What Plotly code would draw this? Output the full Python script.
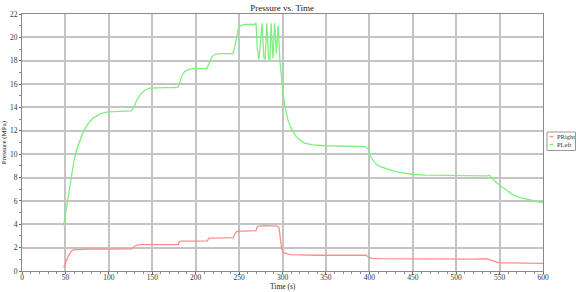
import plotly.graph_objects as go

# PLeft (green) samples
t_left = [48, 51.5, 54, 57, 60, 63, 67, 71, 76, 82, 90, 97, 105, 115, 126, 129, 132, 136, 141, 147, 155, 165, 175, 180,
          182, 184, 187, 190, 195, 205, 213, 215, 217, 219, 222, 228, 236, 243, 245, 247, 249, 251, 253, 258, 264, 268.5,
          269.5, 271, 273, 275, 276.5, 278.5, 280, 281.9, 284, 285.5, 286.9, 289, 291, 293, 295, 297, 299, 301, 303, 306,
          309, 313, 317, 320, 325, 335, 349, 365, 380, 395, 398.6, 401, 404, 407, 412, 420, 428, 436, 445, 451, 465, 480,
          489, 505, 520, 535, 538, 541, 546, 551, 558, 566, 575, 585, 593, 600]
v_left = [3.9, 5.5, 6.9, 8.4, 9.5, 10.4, 11.2, 12.0, 12.6, 13.1, 13.45, 13.6, 13.65, 13.7, 13.7, 14.0, 14.6, 15.1, 15.45, 15.65, 15.7, 15.7, 15.7, 15.75,
          16.2, 16.7, 17.05, 17.2, 17.3, 17.3, 17.35, 17.7, 18.1, 18.35, 18.55, 18.6, 18.6, 18.6, 19.2, 20.0, 20.7, 20.95, 21.05, 21.1, 21.1, 21.1,
          21.25, 19.0, 18.1, 20.0, 21.2, 18.3, 18.1, 21.2, 18.2, 18.0, 21.2, 18.2, 21.2, 18.6, 21.0, 18.0, 16.2, 15.0, 14.0, 13.0,
          12.4, 11.8, 11.4, 11.2, 10.95, 10.8, 10.72, 10.7, 10.7, 10.65, 10.45, 9.9, 9.5, 9.2, 8.95, 8.72, 8.55, 8.42, 8.32, 8.26, 8.2, 8.18,
          8.15, 8.12, 8.12, 8.14, 8.2, 7.95, 7.6, 7.3, 6.9, 6.5, 6.25, 6.05, 5.95, 5.85]

# PRight (red) samples
t_right = [48, 50, 51.5, 53.5, 55.3, 57, 59, 65, 75, 90, 105, 115, 126, 128, 130, 133, 136, 150, 165, 180, 181, 183, 195, 205,
           213.5, 214.5, 216, 225, 235, 243.4, 245, 247.3, 255, 262, 269.6, 270.5, 272, 280, 290, 294, 296, 297.5, 299,
           301, 303, 308.8, 312.5, 320, 340, 360, 380, 396, 399, 403, 410, 430, 460, 490, 520, 535, 540, 546, 550.7, 560,
           575, 590, 600]
v_right = [0.3, 0.6, 0.95, 1.3, 1.56, 1.72, 1.8, 1.85, 1.88, 1.87, 1.9, 1.87, 1.9, 2.0, 2.14, 2.22, 2.25, 2.25, 2.25, 2.27, 2.5, 2.55, 2.55, 2.55,
           2.57, 2.72, 2.82, 2.82, 2.82, 2.85, 3.15, 3.4, 3.42, 3.42, 3.45, 3.72, 3.85, 3.88, 3.86, 3.85, 3.7, 2.8, 1.9,
           1.6, 1.52, 1.4, 1.38, 1.38, 1.35, 1.36, 1.33, 1.35, 1.2, 1.08, 1.06, 1.05, 1.02, 1.05, 1.02, 1.05, 0.9, 0.78, 0.7, 0.68,
           0.66, 0.66, 0.65]

x_ticks = [0, 50, 100, 150, 200, 250, 300, 350, 400, 450, 500, 550, 600]
y_ticks = [0, 2, 4, 6, 8, 10, 12, 14, 16, 18, 20, 22]
series_names = ["PRight", "PLeft"]
series_colors = ["#ff8c8c", "#7ef07e"]

FONT = "Liberation Serif"

fig = go.Figure()
fig.add_trace(go.Scatter(x=t_right, y=v_right, mode="lines", name=series_names[0],
                         line=dict(color=series_colors[0], width=1.3)))
fig.add_trace(go.Scatter(x=t_left, y=v_left, mode="lines", name=series_names[1],
                         line=dict(color=series_colors[1], width=1.3)))

axis_common = dict(
    showgrid=True, gridcolor="#c4c4c4", gridwidth=1.5,
    showline=True, linecolor="#8a8a8a", linewidth=1, mirror=True,
    ticks="outside", ticklen=2, tickcolor="#666",
    tickfont=dict(family=FONT, size=7.5, color="#333"),
    zeroline=False,
    minor=dict(ticks="outside", ticklen=2, tickcolor="#888", showgrid=False),
)

# plot area in pixels: x 22..543, y 14..271
W, H, L, T = 521.0, 257.0, 22.0, 14.0
def px(xp):
    return (xp - L) / W
def py(yp):
    return (H + T - yp) / H

shapes = [dict(type="rect", xref="paper", yref="paper",
               x0=px(547), x1=px(575.5), y0=py(150.5), y1=py(132),
               line=dict(color="#999", width=1), fillcolor="white", layer="above")]
annotations = [dict(text="Time (s)", xref="paper", yref="paper", x=0.5, y=py(292),
                    xanchor="center", yanchor="bottom", showarrow=False, borderpad=0,
                    font=dict(family=FONT, size=7.5, color="#222"))]
for i, (nm, col) in enumerate(zip(series_names, series_colors)):
    yy = 136.5 + i * 8
    shapes.append(dict(type="line", xref="paper", yref="paper",
                       x0=px(549.5), x1=px(553.5), y0=py(yy), y1=py(yy),
                       line=dict(color=col, width=1.3), layer="above"))
    annotations.append(dict(text=nm, xref="paper", yref="paper", x=px(554.5), y=py(yy),
                            xanchor="left", yanchor="middle", showarrow=False,
                            font=dict(family=FONT, size=6.5, color="#333")))

fig.update_layout(
    width=576, height=292,
    margin=dict(l=22, r=33, t=14, b=21, autoexpand=False),
    paper_bgcolor="white", plot_bgcolor="white",
    title=dict(text="Pressure vs. Time", x=0.49, xanchor="center", y=0.985, yanchor="top",
               font=dict(family=FONT, size=9, color="#222")),
    xaxis=dict(range=[0, 600], tickvals=x_ticks, ticklabelstandoff=-3, **axis_common),
    yaxis=dict(range=[0, 22], tickvals=y_ticks, title=dict(text="Pressure (MPa)", standoff=2,
               font=dict(family=FONT, size=7, color="#222")), **axis_common),
    showlegend=False,
    shapes=shapes,
    annotations=annotations,
)
fig.update_xaxes(minor=dict(dtick=10))
fig.update_yaxes(minor=dict(dtick=1))

fig.write_html("out.html")
